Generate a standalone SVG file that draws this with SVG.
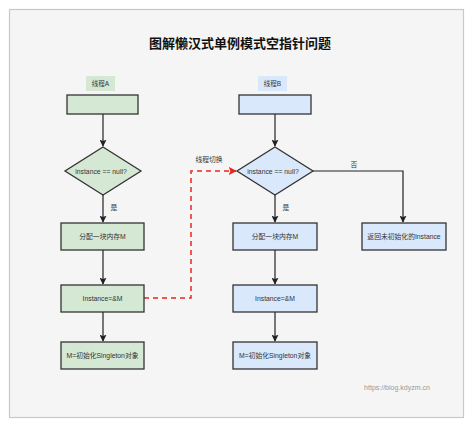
<svg xmlns="http://www.w3.org/2000/svg" width="474" height="428" viewBox="0 0 474 428">
<style>
text{font-family:"Liberation Sans","Noto Sans CJK SC",sans-serif;fill:#333;}
.t{font-size:6.8px;text-anchor:middle;dominant-baseline:central;}
.g{fill:#d5e8d4;stroke:#333;stroke-width:1.3;}
.b{fill:#dae8fc;stroke:#333;stroke-width:1.3;}
.c{fill:none;stroke:#222;stroke-width:1.2;}
.r{fill:none;stroke:#e8261c;stroke-width:1.5;stroke-dasharray:5,4;}
</style>
<defs>
<marker id="ah" viewBox="0 0 10 10" refX="9" refY="5" markerWidth="7" markerHeight="7" markerUnits="userSpaceOnUse" orient="auto"><path d="M0,0 L10,5 L0,10 L2,5 Z" fill="#222"/></marker>
<marker id="ar" viewBox="0 0 10 10" refX="9" refY="5" markerWidth="8" markerHeight="8" markerUnits="userSpaceOnUse" orient="auto"><path d="M0,0 L10,5 L0,10 L2,5 Z" fill="#e8261c"/></marker>
</defs>
<rect x="9.5" y="9.5" width="454" height="408" fill="#f5f5f5" stroke="#c8c8c8" stroke-width="1.2"/>
<text x="240" y="43" style="font-size:13px;font-weight:bold;text-anchor:middle;dominant-baseline:central;fill:#111">图解懒汉式单例模式空指针问题</text>

<g id="connectors">
<path class="c" d="M103,114 V146" marker-end="url(#ah)"/>
<path class="c" d="M103,194 V222" marker-end="url(#ah)"/>
<path class="c" d="M103,250 V284" marker-end="url(#ah)"/>
<path class="c" d="M103,312 V341" marker-end="url(#ah)"/>
<path class="c" d="M275,114 V146" marker-end="url(#ah)"/>
<path class="c" d="M275,194 V222" marker-end="url(#ah)"/>
<path class="c" d="M275,250 V284" marker-end="url(#ah)"/>
<path class="c" d="M275,312 V341" marker-end="url(#ah)"/>
<path class="c" d="M313,171 H403 V222" marker-end="url(#ah)"/>
<path class="r" d="M144,298 H191 V171 H236" marker-end="url(#ar)"/>
<text class="t" x="114" y="207">是</text>
<text class="t" x="286" y="207">是</text>
<text class="t" x="354" y="164">否</text>
<text class="t" x="209" y="159">线程切换</text>
</g>

<g id="labelA"><rect x="86" y="76" width="29" height="15" fill="#d5e8d4"/><text class="t" x="100.5" y="83.5" style="font-size:6.5px">线程A</text></g>
<g id="labelB"><rect x="258" y="76" width="29" height="15" fill="#dae8fc"/><text class="t" x="272.5" y="83.5" style="font-size:6.5px">线程B</text></g>

<g id="startA"><rect class="g" x="67" y="95" width="71" height="19"/></g>
<g id="startB"><rect class="b" x="239" y="95" width="72" height="19"/></g>

<g id="condA"><path class="g" d="M103,147 L141,171 L103,195 L65,171 Z"/><text class="t" x="101" y="171">instance == null?</text></g>
<g id="condB"><path class="b" d="M275,147 L313,171 L275,195 L237,171 Z"/><text class="t" x="273" y="171">instance == null?</text></g>

<g id="allocA"><rect class="g" x="61" y="223" width="83" height="27"/><text class="t" x="102.5" y="236.5">分配一块内存M</text></g>
<g id="assignA"><rect class="g" x="61" y="285" width="83" height="27"/><text class="t" x="102.5" y="298.5">Instance=&amp;M</text></g>
<g id="initA"><rect class="g" x="61" y="342" width="83" height="27"/><text class="t" x="102.5" y="355.5">M=初始化Singleton对象</text></g>

<g id="allocB"><rect class="b" x="233" y="223" width="84" height="27"/><text class="t" x="275" y="236.5">分配一块内存M</text></g>
<g id="assignB"><rect class="b" x="233" y="285" width="84" height="27"/><text class="t" x="275" y="298.5">Instance=&amp;M</text></g>
<g id="initB"><rect class="b" x="233" y="342" width="84" height="27"/><text class="t" x="275" y="355.5">M=初始化Singleton对象</text></g>

<g id="returnB"><rect class="b" x="362" y="223" width="84" height="27"/><text class="t" x="404" y="236.5">返回未初始化的Instance</text></g>

<text x="397" y="387" style="font-size:7px;text-anchor:middle;dominant-baseline:central;fill:#999">https://blog.kdyzm.cn</text>
</svg>
